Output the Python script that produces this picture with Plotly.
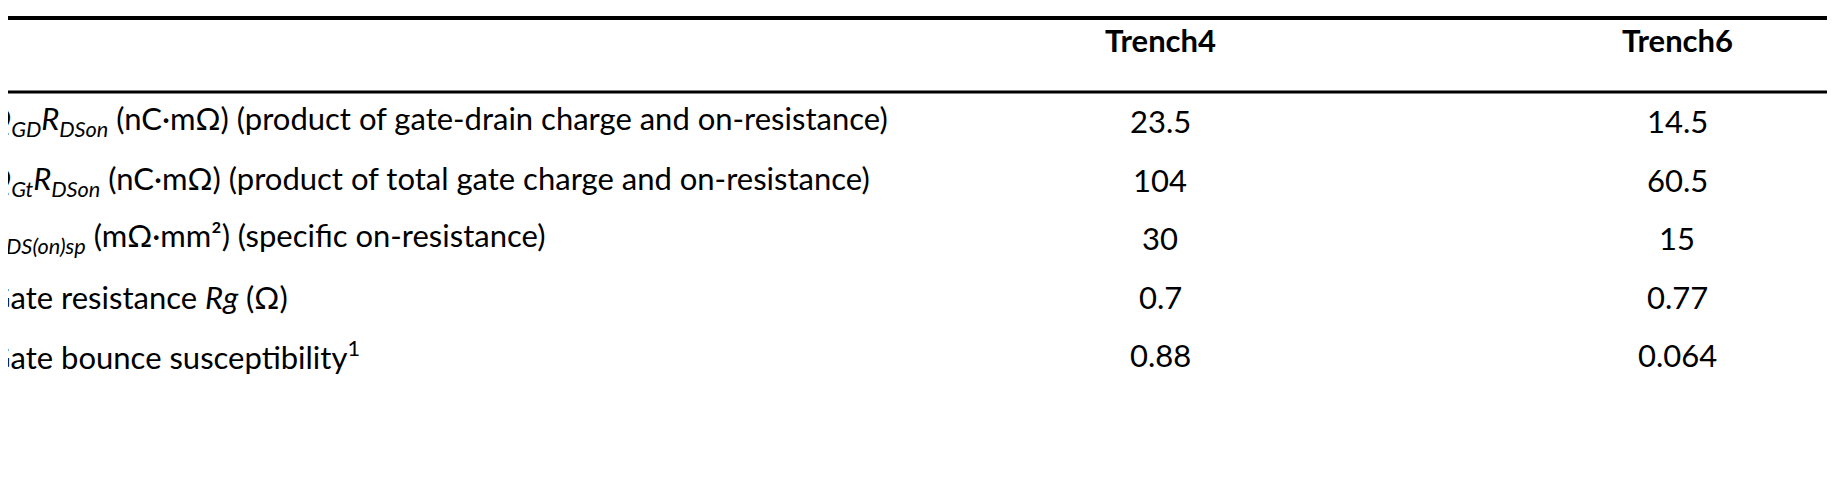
import plotly.graph_objects as go

W, H = 1835, 504
columns = ["Trench4", "Trench6"]
row_labels = [
    "<i>Q</i><sub><i>GD</i></sub><i>R</i><sub><i>DSon</i></sub> (nC·mΩ) (product of gate-drain charge and on-resistance)",
    "<i>Q</i><sub><i>Gt</i></sub><i>R</i><sub><i>DSon</i></sub> (nC·mΩ) (product of total gate charge and on-resistance)",
    "<i>R</i><sub><i>DS(on)sp</i></sub> (mΩ·mm²) (specific on-resistance)",
    "Gate resistance <i>Rg</i> (Ω)",
    "Gate bounce susceptibility<sup>1</sup>",
]
trench4 = ["23.5", "104", "30", "0.7", "0.88"]
trench6 = ["14.5", "60.5", "15", "0.77", "0.064"]

col_x = [1152, 1669]
header_y = 32
row_y = [113, 172, 230, 289, 347]
label_x = -22
font = dict(family="Lato, Open Sans, sans-serif", size=31, color="black")

fig = go.Figure()
ann = []
def px(x): return x / W
def py(y): return 1 - y / H

for cx, c in zip(col_x, columns):
    ann.append(dict(x=px(cx), y=py(header_y), text=f"<b>{c}</b>", xref="paper", yref="paper",
                    showarrow=False, xanchor="center", yanchor="middle", font=font))
for ry, lab, a, b in zip(row_y, row_labels, trench4, trench6):
    ann.append(dict(x=px(label_x), y=py(ry), text=lab, xref="paper", yref="paper",
                    showarrow=False, xanchor="left", yanchor="middle", font=font))
    for cx, v in zip(col_x, (a, b)):
        ann.append(dict(x=px(cx), y=py(ry), text=v, xref="paper", yref="paper",
                        showarrow=False, xanchor="center", yanchor="middle", font=font))

shapes = [
    dict(type="line", xref="paper", yref="paper", x0=0, x1=1, y0=py(10), y1=py(10),
         line=dict(color="black", width=4)),
    dict(type="line", xref="paper", yref="paper", x0=0, x1=1, y0=py(84), y1=py(84),
         line=dict(color="black", width=3)),
]

fig.update_layout(width=W, height=H, margin=dict(l=0, r=0, t=0, b=0),
                  paper_bgcolor="white", plot_bgcolor="white",
                  xaxis=dict(visible=False, range=[0, 1]), yaxis=dict(visible=False, range=[0, 1]),
                  annotations=ann, shapes=shapes, showlegend=False)
fig.write_html("out.html")
